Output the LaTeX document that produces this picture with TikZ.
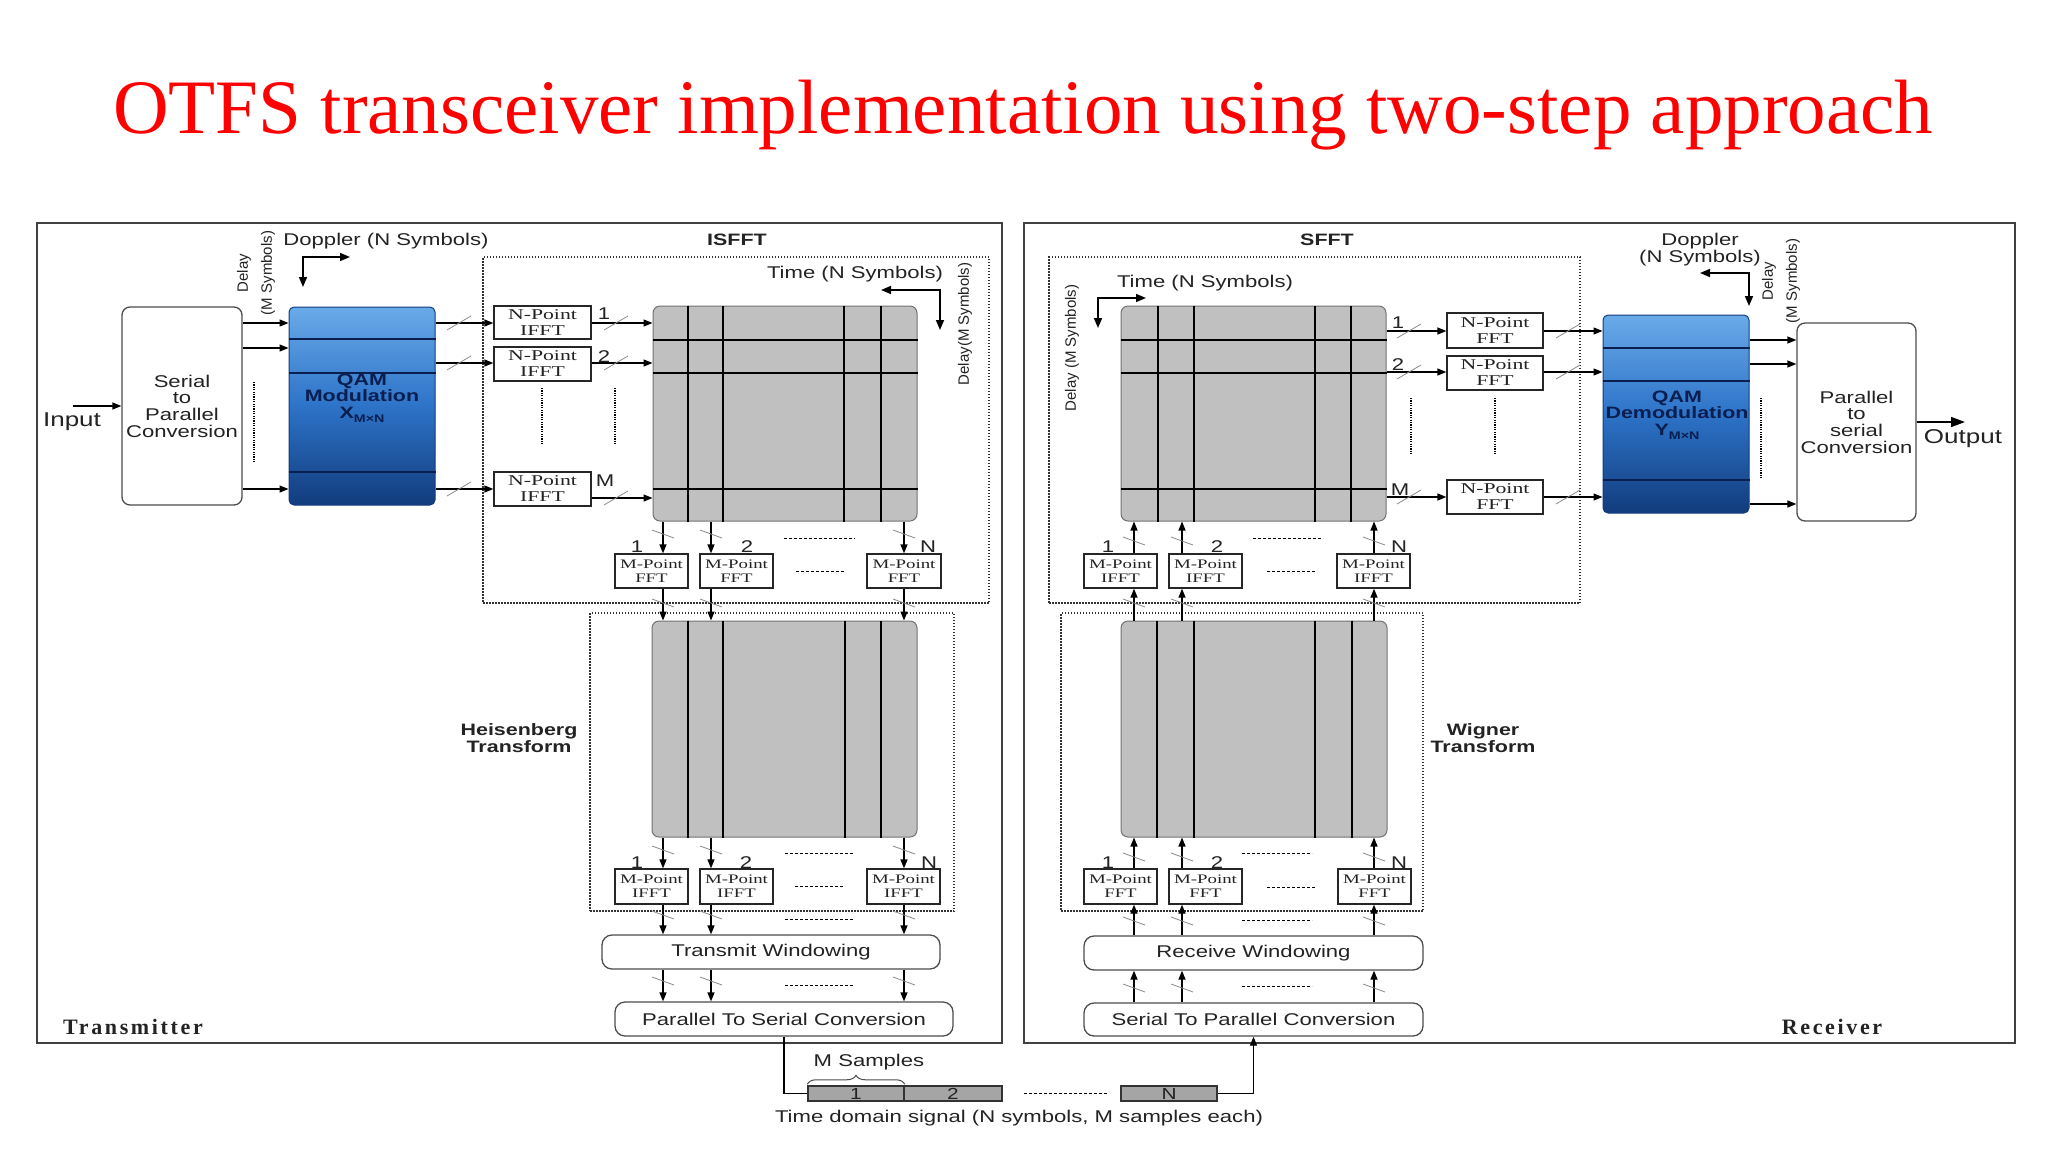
\documentclass[tikz,border=0pt]{standalone}
\usepackage{fontspec}
\setmainfont{Liberation Serif}
\newfontfamily\dsans[FakeStretch=1.3]{Liberation Sans}
\newfontfamily\dserif[FakeStretch=1.45]{Liberation Serif}
\newfontfamily\rsans{Liberation Sans}
\newfontfamily\lspserif[LetterSpace=12]{Liberation Serif}
\usetikzlibrary{arrows.meta,decorations.pathreplacing}

\definecolor{ink}{RGB}{35,35,35}
\definecolor{gridgray}{RGB}{192,192,192}
\definecolor{qtop}{RGB}{105,170,232}
\definecolor{qmid}{RGB}{45,115,200}
\definecolor{qbot}{RGB}{18,60,125}
\definecolor{navy}{RGB}{10,30,80}
\definecolor{sigfill}{RGB}{165,165,165}

\newcommand\xfA{\dsans\fontsize{17}{17}\selectfont}
\newcommand\xfBx{\dsans\bfseries\fontsize{16.5}{16.5}\selectfont}
\newcommand\xfN{\dserif\fontsize{15}{16}\selectfont}
\newcommand\xfM{\dserif\fontsize{13}{14}\selectfont}
\newcommand\xfR{\rsans\fontsize{15}{24}\selectfont}
\newcommand\xfIO{\dsans\fontsize{20}{20}\selectfont}
\newcommand\xfL{\lspserif\bfseries\fontsize{22}{22}\selectfont}
\newcommand\xfS{\dsans\fontsize{17}{16.7}\selectfont}
\newcommand\hs[2]{\draw[slsh] (#1,#2) ++(-12,7) -- ++(24,-14);}
\newcommand\vs[2]{\draw[slsh] (#1,#2) ++(-11,-4) -- ++(22,8);}

\begin{document}
\begin{tikzpicture}[x=1pt,y=-1pt,
  every node/.style={text=ink},
  arr/.style={draw=black,line width=1.3pt,-{Triangle[length=9pt,width=7pt]}},
  bigarr/.style={draw=black,line width=1.5pt,-{Triangle[length=14pt,width=10pt]}},
  ax/.style={draw=black,line width=1.6pt,{Triangle[length=10pt,width=8pt]}-{Triangle[length=10pt,width=8pt]}},
  slsh/.style={draw=black!45,line width=0.8pt},
  dotv/.style={draw=black,line width=1.2pt,dash pattern=on 1.2pt off 1.2pt},
  dashh/.style={draw=black,line width=1pt,dash pattern=on 3pt off 2pt},
  dotbox/.style={draw=black!80,line width=1.1pt,dash pattern=on 1.5pt off 1.5pt,inner sep=0pt},
  outerbox/.style={draw=black!75,line width=2pt,inner sep=0pt},
  nbox/.style={draw=black!85,line width=1.3pt,fill=white,inner sep=0pt,align=center,font=\xfN},
  mbox/.style={draw=black!85,line width=1.3pt,fill=white,inner sep=0pt,align=center,font=\xfM},
  rbox/.style={draw=black!70,line width=1.3pt,fill=white,rounded corners=10pt,inner sep=0pt,align=center,font=\xfA},
  gbox/.style={draw=black!55,line width=1pt,fill=gridgray,rounded corners=7pt,inner sep=0pt},
  gl/.style={draw=black,line width=1.4pt},
  qbox/.style={draw=qbot,line width=1pt,rounded corners=5pt,top color=qtop,bottom color=qbot,middle color=qmid,inner sep=0pt},
  lab/.style={font=\xfA,inner sep=0pt},
  sigbox/.style={draw=black!80,line width=1.5pt,fill=sigfill,inner sep=0pt,font=\dsans\fontsize{16}{16}\selectfont},
]
\useasboundingbox (0,0) rectangle (2048,1152);
\fill[white] (0,0) rectangle (2048,1152);

% title
\node[anchor=base,text=red,font=\fontsize{77}{77}\selectfont,inner sep=0pt] (title) at (1023,133) {OTFS transceiver implementation using two-step approach};

% frames
\node[outerbox,minimum width=965pt,minimum height=820pt] (tx) at (519.5,633) {};
\node[outerbox,minimum width=991pt,minimum height=820pt] (rx) at (1519.5,633) {};
\node[font=\xfL] (txl) at (133,1027) {Transmitter};
\node[font=\xfL] (rxl) at (1832,1027) {Receiver};

% dotted areas
\node[dotbox,minimum width=506pt,minimum height=346pt] (isfftA) at (736,430) {};
\node[dotbox,minimum width=364pt,minimum height=298pt] (heisA) at (772,762) {};
\node[dotbox,minimum width=531pt,minimum height=346pt] (sfftA) at (1314.5,430) {};
\node[dotbox,minimum width=362pt,minimum height=298pt] (wigA) at (1242,762) {};

% ================= TRANSMITTER =================
\node[font=\xfIO,inner sep=0pt] (inlab) at (72,422) {Input};
\coordinate (inS) at (73,406);
\node[rbox,rounded corners=8pt,minimum width=120pt,minimum height=198pt,font=\xfS] (sp) at (182,406) {Serial\\to\\Parallel\\Conversion};
\node[qbox,minimum width=146pt,minimum height=198pt] (qam) at (362,406) {};
\foreach \yy in {339,373,472} \draw[draw=navy,line width=1.3pt] (qam.west |- 0,\yy) -- (qam.east |- 0,\yy);
\node[font=\xfBx,text=navy,align=center,inner sep=0pt] (qamt) at (362,398) {QAM\\Modulation\\X\raisebox{-4pt}{\fontsize{11}{11}\selectfont M×N}};
\draw[arr] (inS) -- (sp.west);
\foreach \yy in {323,348,489} \draw[arr] (sp.east |- 0,\yy) -- (qam.west |- 0,\yy);
\draw[dotv] (254,382) -- (254,463);

\node[font=\xfR,rotate=90,align=center,inner sep=0pt] (dly1) at (256,273) {Delay\\(M Symbols)};
\node[lab] (dop1) at (386,241) {Doppler (N Symbols)};
\coordinate (dA) at (303,287); \coordinate (dB) at (303,257); \coordinate (dC) at (350,257);
\draw[ax] (dA) -- (dB) -- (dC);

% ISFFT
\node[font=\xfBx,inner sep=0pt] (isfftT) at (737,240) {ISFFT};
\node[nbox,minimum width=97pt,minimum height=33pt] (nif1) at (542.5,322.5) {N-Point\\IFFT};
\node[nbox,minimum width=97pt,minimum height=34pt] (nif2) at (542.5,364) {N-Point\\IFFT};
\node[nbox,minimum width=97pt,minimum height=34pt] (nifM) at (542.5,489) {N-Point\\IFFT};
\draw[dotv] (542,388) -- (542,445);
\draw[dotv] (615,388) -- (615,445);
\node[gbox,minimum width=264pt,minimum height=215pt] (isg) at (785,413.5) {};
\foreach \xx in {688,723,844,881} \draw[gl] (isg.north -| \xx,0) -- (isg.south -| \xx,0);
\foreach \yy in {340,373,489} \draw[gl] (isg.west |- 0,\yy) -- (isg.east |- 0,\yy);

\draw[arr] (qam.east |- 0,323) -- (nif1.west |- 0,323);
\draw[arr] (qam.east |- 0,363) -- (nif2.west |- 0,363);
\draw[arr] (qam.east |- 0,489) -- (nifM.west |- 0,489);
\hs{459}{323} \hs{459}{363} \hs{459}{489}
\draw[arr] (nif1.east |- 0,323) -- (isg.west |- 0,323);
\draw[arr] (nif2.east |- 0,363) -- (isg.west |- 0,363);
\draw[arr] (nifM.east |- 0,498) -- (isg.west |- 0,498);
\hs{616}{323} \hs{616}{363} \hs{616}{498}
\node[lab] (r1) at (604,314) {1};
\node[lab] (r2) at (604,357) {2};
\node[lab] (rM) at (605,481) {M};

\node[lab] (time1) at (855,274) {Time (N Symbols)};
\coordinate (tA) at (881,290); \coordinate (tB) at (940,290); \coordinate (tC) at (940,330);
\draw[ax] (tA) -- (tB) -- (tC);
\node[font=\xfR,rotate=90,inner sep=0pt] (dly2) at (965,324) {Delay(M Symbols)};

\node[mbox,minimum width=73pt,minimum height=34pt] (mf1) at (651.5,571) {M-Point\\FFT};
\node[mbox,minimum width=73pt,minimum height=34pt] (mf2) at (736.5,571) {M-Point\\FFT};
\node[mbox,minimum width=74pt,minimum height=34pt] (mfN) at (904,571) {M-Point\\FFT};
\node[lab] (c1a) at (637,547) {1};
\node[lab] (c2a) at (747,547) {2};
\node[lab] (cNa) at (928,547) {N};
\draw[dashh] (784,538) -- (855,538);
\draw[dashh] (796,571) -- (845,571);

% Heisenberg
\node[font=\xfBx,align=center,inner sep=0pt] (heisT) at (519,738) {Heisenberg\\Transform};
\node[gbox,minimum width=265pt,minimum height=216pt] (hg) at (784.5,729) {};
\foreach \xx in {688,723,845,881} \draw[gl] (hg.north -| \xx,0) -- (hg.south -| \xx,0);
\node[mbox,minimum width=73pt,minimum height=35pt] (mi1) at (651.5,886.5) {M-Point\\IFFT};
\node[mbox,minimum width=73pt,minimum height=35pt] (mi2) at (736.5,886.5) {M-Point\\IFFT};
\node[mbox,minimum width=73pt,minimum height=35pt] (miN) at (903.5,886.5) {M-Point\\IFFT};
\node[lab] (c1b) at (637,863) {1};
\node[lab] (c2b) at (746,863) {2};
\node[lab] (cNb) at (929,863) {N};
\draw[dashh] (785,853) -- (854,853);
\draw[dashh] (795,886) -- (845,886);
\draw[dashh] (785,919) -- (854,919);
\draw[dashh] (785,985) -- (854,985);

\node[rbox,minimum width=338pt,minimum height=34pt] (tw) at (771,952) {Transmit Windowing};
\node[rbox,minimum width=338pt,minimum height=34pt] (ps) at (784,1019) {Parallel To Serial Conversion};

\foreach \xx/\ba/\bb in {663/mf1/mi1,711/mf2/mi2,904/mfN/miN}{
  \draw[arr] (isg.south -| \xx,0) -- (\ba.north -| \xx,0);
  \draw[arr] (\ba.south -| \xx,0) -- (hg.north -| \xx,0);
  \draw[arr] (hg.south -| \xx,0) -- (\bb.north -| \xx,0);
  \draw[arr] (\bb.south -| \xx,0) -- (tw.north -| \xx,0);
  \draw[arr] (tw.south -| \xx,0) -- (ps.north -| \xx,0);
  \vs{\xx}{534} \vs{\xx}{603} \vs{\xx}{850} \vs{\xx}{915} \vs{\xx}{981}
}

% ================= SIGNAL =================
\node[sigbox,minimum width=96pt,minimum height=15pt] (b1) at (856,1093.5) {1};
\node[sigbox,minimum width=98pt,minimum height=15pt] (b2) at (953,1093.5) {2};
\node[sigbox,minimum width=96pt,minimum height=15pt] (bN) at (1169,1093.5) {N};
\draw[dashh] (1024,1093) -- (1108,1093);
\draw[draw=black!70,line width=1pt,decorate,decoration={brace,amplitude=9pt}] ([yshift=1pt]b1.north west) -- ([yshift=1pt]b1.north east);
\node[lab] (msl) at (869,1062) {M Samples};
\node[lab] (tds) at (1019,1118) {Time domain signal (N symbols, M samples each)};
\draw[line width=1.5pt] (ps.south) |- (b1.west);

% ================= RECEIVER =================
\node[font=\xfBx,inner sep=0pt] (sfftT) at (1327,240) {SFFT};
\node[lab] (time2) at (1205,283) {Time (N Symbols)};
\coordinate (uA) at (1146,298); \coordinate (uB) at (1098,298); \coordinate (uC) at (1098,328);
\draw[ax] (uA) -- (uB) -- (uC);
\node[font=\xfR,rotate=90,inner sep=0pt] (dly3) at (1072,348) {Delay (M Symbols)};

\node[gbox,minimum width=265pt,minimum height=215pt] (rg) at (1253.5,413.5) {};
\foreach \xx in {1158,1194,1315,1351} \draw[gl] (rg.north -| \xx,0) -- (rg.south -| \xx,0);
\foreach \yy in {340,373,489} \draw[gl] (rg.west |- 0,\yy) -- (rg.east |- 0,\yy);

\node[nbox,minimum width=96pt,minimum height=35pt] (nf1) at (1495,330.5) {N-Point\\FFT};
\node[nbox,minimum width=96pt,minimum height=34pt] (nf2) at (1495,373) {N-Point\\FFT};
\node[nbox,minimum width=96pt,minimum height=34pt] (nfM) at (1495,497) {N-Point\\FFT};
\draw[dotv] (1411,398) -- (1411,454);
\draw[dotv] (1495,398) -- (1495,454);
\node[lab] (s1) at (1398,323) {1};
\node[lab] (s2) at (1398,365) {2};
\node[lab] (sM) at (1400,490) {M};

\node[qbox,minimum width=146pt,minimum height=198pt] (demod) at (1676,414) {};
\foreach \yy in {348,381,480} \draw[draw=navy,line width=1.3pt] (demod.west |- 0,\yy) -- (demod.east |- 0,\yy);
\node[font=\xfBx,text=navy,align=center,inner sep=0pt] (demt) at (1677,415) {QAM\\Demodulation\\Y\raisebox{-4pt}{\fontsize{11}{11}\selectfont M×N}};

\foreach \yy/\bx in {331/nf1,372/nf2,497/nfM}{
  \draw[arr] (rg.east |- 0,\yy) -- (\bx.west |- 0,\yy);
  \draw[arr] (\bx.east |- 0,\yy) -- (demod.west |- 0,\yy);
  \hs{1409}{\yy} \hs{1568}{\yy}
}

\node[lab,align=center] (dop2) at (1700,250) {Doppler\\(N Symbols)};
\coordinate (vA) at (1700,273); \coordinate (vB) at (1749,273); \coordinate (vC) at (1749,306);
\draw[ax] (vA) -- (vB) -- (vC);
\node[font=\xfR,rotate=90,align=center,inner sep=0pt] (dly4) at (1781,281) {Delay\\(M Symbols)};

\node[rbox,rounded corners=8pt,minimum width=119pt,minimum height=198pt,font=\xfS] (rps) at (1856.5,422) {Parallel\\to\\serial\\Conversion};
\foreach \yy in {340,364,504} \draw[arr] (demod.east |- 0,\yy) -- (rps.west |- 0,\yy);
\draw[dotv] (1761,398) -- (1761,478);
\coordinate (outE) at (1965,422);
\draw[bigarr] (rps.east) -- (outE);
\node[font=\xfIO,inner sep=0pt] (outlab) at (1963,439) {Output};

% receiver lower part
\node[mbox,minimum width=73pt,minimum height=34pt] (rmi1) at (1120.5,571) {M-Point\\IFFT};
\node[mbox,minimum width=73pt,minimum height=34pt] (rmi2) at (1205.5,571) {M-Point\\IFFT};
\node[mbox,minimum width=73pt,minimum height=34pt] (rmiN) at (1373.5,571) {M-Point\\IFFT};
\node[lab] (d1a) at (1108,547) {1};
\node[lab] (d2a) at (1217,547) {2};
\node[lab] (dNa) at (1399,547) {N};
\draw[dashh] (1253,538) -- (1323,538);
\draw[dashh] (1267,571) -- (1315,571);

\node[font=\xfBx,align=center,inner sep=0pt] (wigT) at (1483,738) {Wigner\\Transform};
\node[gbox,minimum width=266pt,minimum height=216pt] (wg) at (1254,729) {};
\foreach \xx in {1157,1194,1315,1352} \draw[gl] (wg.north -| \xx,0) -- (wg.south -| \xx,0);
\node[mbox,minimum width=73pt,minimum height=35pt] (rmf1) at (1120.5,886.5) {M-Point\\FFT};
\node[mbox,minimum width=73pt,minimum height=35pt] (rmf2) at (1205.5,886.5) {M-Point\\FFT};
\node[mbox,minimum width=73pt,minimum height=35pt] (rmfN) at (1374.5,886.5) {M-Point\\FFT};
\node[lab] (d1b) at (1108,863) {1};
\node[lab] (d2b) at (1217,863) {2};
\node[lab] (dNb) at (1399,863) {N};
\draw[dashh] (1242,853) -- (1312,853);
\draw[dashh] (1267,887) -- (1315,887);
\draw[dashh] (1242,920) -- (1312,920);
\draw[dashh] (1242,986) -- (1312,986);

\node[rbox,minimum width=339pt,minimum height=34pt] (rw) at (1253.5,953) {Receive Windowing};
\node[rbox,minimum width=339pt,minimum height=33pt] (rsp) at (1253.5,1019.5) {Serial To Parallel Conversion};

\foreach \xx/\ba/\bb in {1134/rmi1/rmf1,1182/rmi2/rmf2,1374/rmiN/rmfN}{
  \draw[arr] (\ba.north -| \xx,0) -- (rg.south -| \xx,0);
  \draw[arr] (wg.north -| \xx,0) -- (\ba.south -| \xx,0);
  \draw[arr] (\bb.north -| \xx,0) -- (wg.south -| \xx,0);
  \draw[arr] (rw.north -| \xx,0) -- (\bb.south -| \xx,0);
  \draw[arr] (rsp.north -| \xx,0) -- (rw.south -| \xx,0);
  \vs{\xx}{541} \vs{\xx}{603} \vs{\xx}{857} \vs{\xx}{921} \vs{\xx}{988}
}

\draw[arr] (bN.east) -| (rsp.south);
\end{tikzpicture}
\end{document}
